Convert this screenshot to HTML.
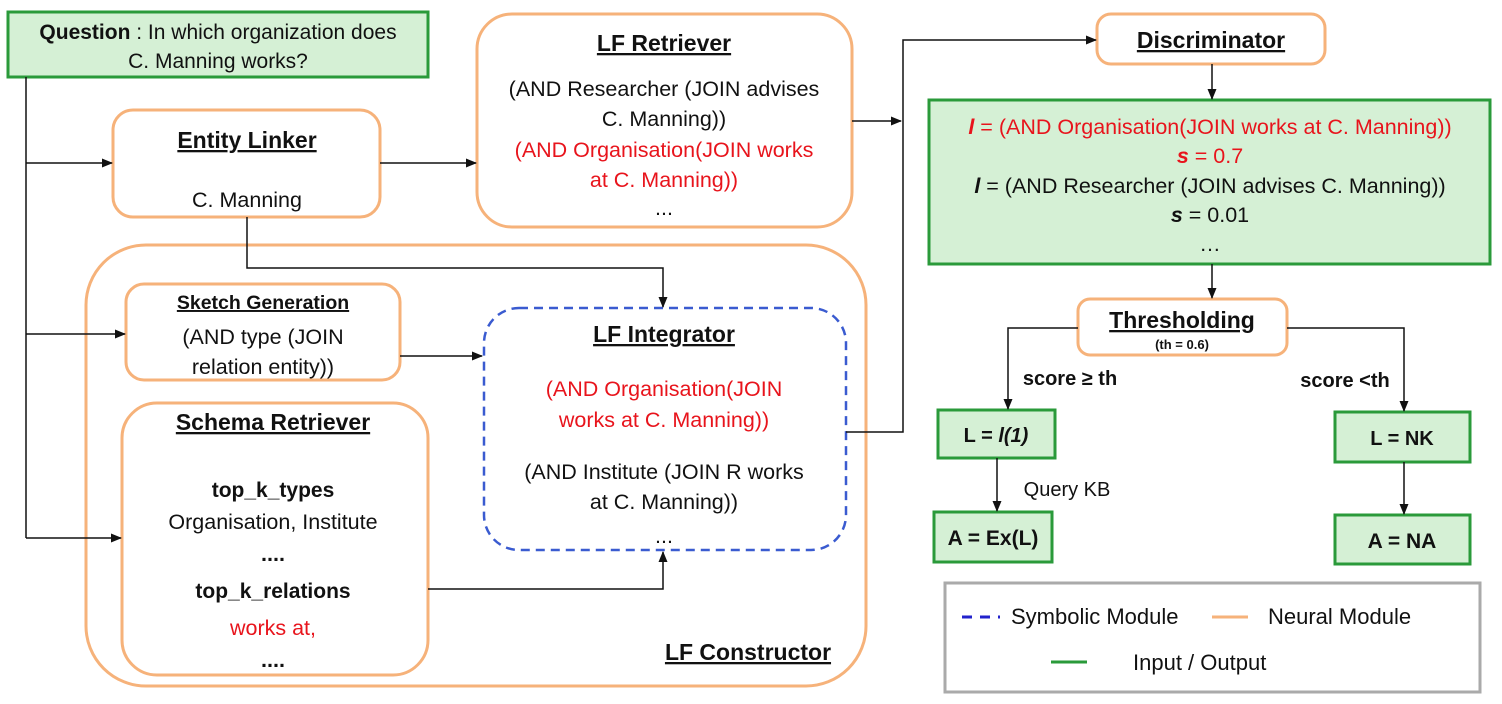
<!DOCTYPE html>
<html><head><meta charset="utf-8"><style>
body{margin:0;background:#fff}
svg{display:block;font-family:"Liberation Sans",sans-serif}
.t{font-size:21.5px;text-anchor:middle;fill:#111}
.b{font-weight:bold}
.u{text-decoration:underline}
.r{fill:#e8141c}
.o{fill:#fff;stroke:#f6b27a;stroke-width:3}
.g{fill:#d5f0d5;stroke:#2a9a3a;stroke-width:3}
.l{stroke:#111;stroke-width:1.5;fill:none}
</style></head><body>
<svg width="1502" height="704" viewBox="0 0 1502 704">
<defs><marker id="a" markerWidth="11" markerHeight="9" refX="10" refY="4.5" orient="auto" markerUnits="userSpaceOnUse"><path d="M0,0L11,4.5L0,9z" fill="#111"/></marker></defs>
<rect x="8" y="12" width="420" height="65" class="g"/>
<rect x="86" y="245" width="780" height="441" rx="60" class="o"/>
<rect x="113" y="110" width="267" height="107" rx="20" class="o"/>
<rect x="477" y="14" width="375" height="213" rx="35" class="o"/>
<rect x="126" y="284" width="274" height="96" rx="18" class="o"/>
<rect x="122" y="403" width="306" height="272" rx="35" class="o"/>
<rect x="484" y="308" width="362" height="242" rx="35" fill="#fff" stroke="#3a5bd0" stroke-width="2.5" stroke-dasharray="9,6"/>
<rect x="1097" y="14" width="228" height="50" rx="14" class="o"/>
<rect x="929" y="100" width="561" height="164" class="g"/>
<rect x="1078" y="299" width="209" height="56" rx="12" class="o"/>
<rect x="938" y="410" width="117" height="48" class="g"/>
<rect x="934" y="512" width="118" height="50" class="g"/>
<rect x="1335" y="412" width="135" height="50" class="g"/>
<rect x="1335" y="515" width="135" height="49" class="g"/>
<rect x="945" y="583" width="535" height="109" fill="#fff" stroke="#aaa" stroke-width="3"/>
<path class="l" d="M26,77V538"/>
<path class="l" marker-end="url(#a)" d="M26,163H112"/>
<path class="l" marker-end="url(#a)" d="M26,334H125"/>
<path class="l" marker-end="url(#a)" d="M26,538H121"/>
<path class="l" marker-end="url(#a)" d="M380,163H476"/>
<path class="l" marker-end="url(#a)" d="M247,217V268H663V307"/>
<path class="l" marker-end="url(#a)" d="M400,356H482"/>
<path class="l" marker-end="url(#a)" d="M428,589H663V552"/>
<path class="l" marker-end="url(#a)" d="M852,121H901"/>
<path class="l" marker-end="url(#a)" d="M846,432H903V40H1096"/>
<path class="l" marker-end="url(#a)" d="M1212,64V99"/>
<path class="l" marker-end="url(#a)" d="M1212,264V298"/>
<path class="l" marker-end="url(#a)" d="M1078,328H1008V409"/>
<path class="l" marker-end="url(#a)" d="M1287,328H1404V411"/>
<path class="l" marker-end="url(#a)" d="M997,458V511"/>
<path class="l" marker-end="url(#a)" d="M1404,462V514"/>
<text class="t" x="218" y="39" style="font-size:21px"><tspan class="b">Question</tspan> : In which organization does</text>
<text class="t" x="218" y="68" fill="#333" style="font-size:21px">C. Manning works?</text>
<text class="t b u" x="247" y="148" style="font-size:23px">Entity Linker</text>
<text class="t" x="247" y="207">C. Manning</text>
<text class="t b u" x="664" y="51" style="font-size:23px">LF Retriever</text>
<text class="t" x="664" y="96">(AND Researcher (JOIN advises</text>
<text class="t" x="664" y="126">C. Manning))</text>
<text class="t r" x="664" y="157">(AND Organisation(JOIN works</text>
<text class="t r" x="664" y="187">at C. Manning))</text>
<text class="t" x="664" y="215">...</text>
<text class="t b u" x="263" y="309" style="font-size:19.5px">Sketch Generation</text>
<text class="t" x="263" y="344">(AND type (JOIN</text>
<text class="t" x="263" y="374">relation entity))</text>
<text class="t b u" x="664" y="342" style="font-size:23px">LF Integrator</text>
<text class="t r" x="664" y="396">(AND Organisation(JOIN</text>
<text class="t r" x="664" y="427">works at C. Manning))</text>
<text class="t" x="664" y="479">(AND Institute (JOIN R works</text>
<text class="t" x="664" y="509">at C. Manning))</text>
<text class="t" x="664" y="543">...</text>
<text class="t b u" x="273" y="430" style="font-size:23px">Schema Retriever</text>
<text class="t b" x="273" y="497" style="font-size:21px">top_k_types</text>
<text class="t" x="273" y="529">Organisation, Institute</text>
<text class="t b" x="273" y="561">....</text>
<text class="t b" x="273" y="598" style="font-size:21px">top_k_relations</text>
<text class="t r" x="273" y="635">works at,</text>
<text class="t b" x="273" y="667">....</text>
<text class="t b u" x="748" y="660" style="font-size:23px">LF Constructor</text>
<text class="t b u" x="1211" y="48" style="font-size:23px">Discriminator</text>
<text class="t r" x="1210" y="134"><tspan class="b" font-style="italic">l</tspan> = (AND Organisation(JOIN works at C. Manning))</text>
<text class="t r" x="1210" y="163"><tspan class="b" font-style="italic">s</tspan> = 0.7</text>
<text class="t" x="1210" y="193"><tspan class="b" font-style="italic">l</tspan> = (AND Researcher (JOIN advises C. Manning))</text>
<text class="t" x="1210" y="222"><tspan class="b" font-style="italic">s</tspan> = 0.01</text>
<text class="t" x="1210" y="251">…</text>
<text class="t b u" x="1182" y="328" style="font-size:23px">Thresholding</text>
<text class="t b" x="1182" y="349" style="font-size:13px">(th = 0.6)</text>
<text class="t b" x="1070" y="385" style="font-size:20px">score ≥ th</text>
<text class="t b" x="1345" y="387" style="font-size:20px">score &lt;th</text>
<text class="t b" x="996" y="442" style="font-size:20px">L = <tspan font-style="italic">l(1)</tspan></text>
<text class="t" x="1067" y="496" style="font-size:20px">Query KB</text>
<text class="t b" x="993" y="545" style="font-size:21px">A = Ex(L)</text>
<text class="t b" x="1402" y="445" style="font-size:20px">L = NK</text>
<text class="t b" x="1402" y="548" style="font-size:21px">A = NA</text>
<path d="M962,617H1000" stroke="#2222cc" stroke-width="3" stroke-dasharray="10,8"/>
<text x="1011" y="624" style="font-size:22px" fill="#111">Symbolic Module</text>
<path d="M1212,617H1248" stroke="#f6b27a" stroke-width="3"/>
<text x="1268" y="624" style="font-size:22px" fill="#111">Neural Module</text>
<path d="M1051,662H1087" stroke="#2a9a3a" stroke-width="3"/>
<text x="1133" y="670" style="font-size:22px" fill="#111">Input / Output</text>
</svg>
</body></html>
